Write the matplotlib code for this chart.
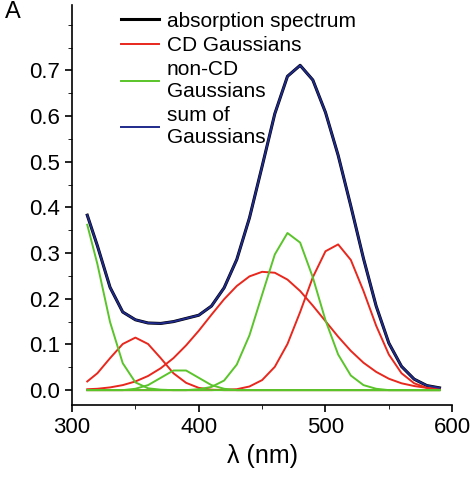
import matplotlib
matplotlib.use("Agg")
import matplotlib.pyplot as plt
import numpy as np
from matplotlib.ticker import MultipleLocator

plt.rcParams['font.family'] = ['Liberation Sans', 'DejaVu Sans']

wl = [312] + list(range(320, 600, 10))
cd1 = [0.019,0.037,0.070,0.101,0.115,0.101,0.070,0.037,0.016,0.005,0.001] + [0]*18
cd2 = [0.002,0.003,0.006,0.011,0.019,0.031,0.048,0.070,0.098,0.130,0.165,0.199,0.228,0.249,0.259,0.257,0.242,0.217,0.185,0.151,0.117,0.086,0.060,0.040,0.025,0.015,0.009,0.005,0.003]
cd3 = [0]*11 + [0.001,0.002,0.008,0.022,0.051,0.101,0.171,0.247,0.304,0.319,0.285,0.217,0.141,0.078,0.037,0.015,0.005,0.002]
nc1 = [0.362,0.276,0.149,0.059,0.017,0.004,0.001] + [0]*22
nc2 = [0]*4 + [0.003,0.011,0.027,0.043,0.043,0.027,0.011,0.003] + [0]*17
nc3 = [0]*9 + [0.002,0.007,0.021,0.056,0.120,0.209,0.297,0.344,0.323,0.247,0.153,0.078,0.032,0.011,0.003] + [0]*5

total = np.array(cd1)+np.array(cd2)+np.array(cd3)+np.array(nc1)+np.array(nc2)+np.array(nc3)

fig = plt.figure(figsize=(4.74, 5.04), dpi=100)
ax = fig.add_axes([0.152, 0.196, 0.802, 0.794])
red, green = '#e8271d', '#5ac42a'
l1, = ax.plot(wl, total, color='black', lw=2.2)
reds = [ax.plot(wl, c, color=red, lw=1.4)[0] for c in [cd1, cd2, cd3]]
greens = [ax.plot(wl, c, color=green, lw=1.4)[0] for c in [nc1, nc2, nc3]]
l4, = ax.plot(wl, total, color='#1f2a8a', lw=1.4)

ax.set_xlim(300, 600)
ax.set_ylim(-0.033, 0.843)
ax.xaxis.set_major_locator(MultipleLocator(100))
ax.xaxis.set_minor_locator(MultipleLocator(50))
ax.yaxis.set_minor_locator(MultipleLocator(0.05))
ax.set_yticks([0, 0.1, 0.2, 0.3, 0.4, 0.5, 0.6, 0.7])
ax.set_yticklabels(['0.0','0.1','0.2','0.3','0.4','0.5','0.6','0.7'])
ax.tick_params(labelsize=16, width=1.2, length=5)
ax.tick_params(which='minor', length=3)
for s in ['top', 'right']:
    ax.spines[s].set_visible(False)
for s in ['left', 'bottom']:
    ax.spines[s].set_linewidth(1.2)
ax.set_xlabel('λ (nm)', fontsize=18)
ax.legend([l1, reds[0], greens[0], l4],
          ['absorption spectrum', 'CD Gaussians', 'non-CD\nGaussians', 'sum of\nGaussians'],
          loc='upper left', bbox_to_anchor=(0.08, 1.03),
          frameon=False, fontsize=15, handlelength=1.8, labelspacing=0.25, handletextpad=0.4)
fig.text(0.01, 0.965, 'A', fontsize=17)
fig.savefig('out.png')
